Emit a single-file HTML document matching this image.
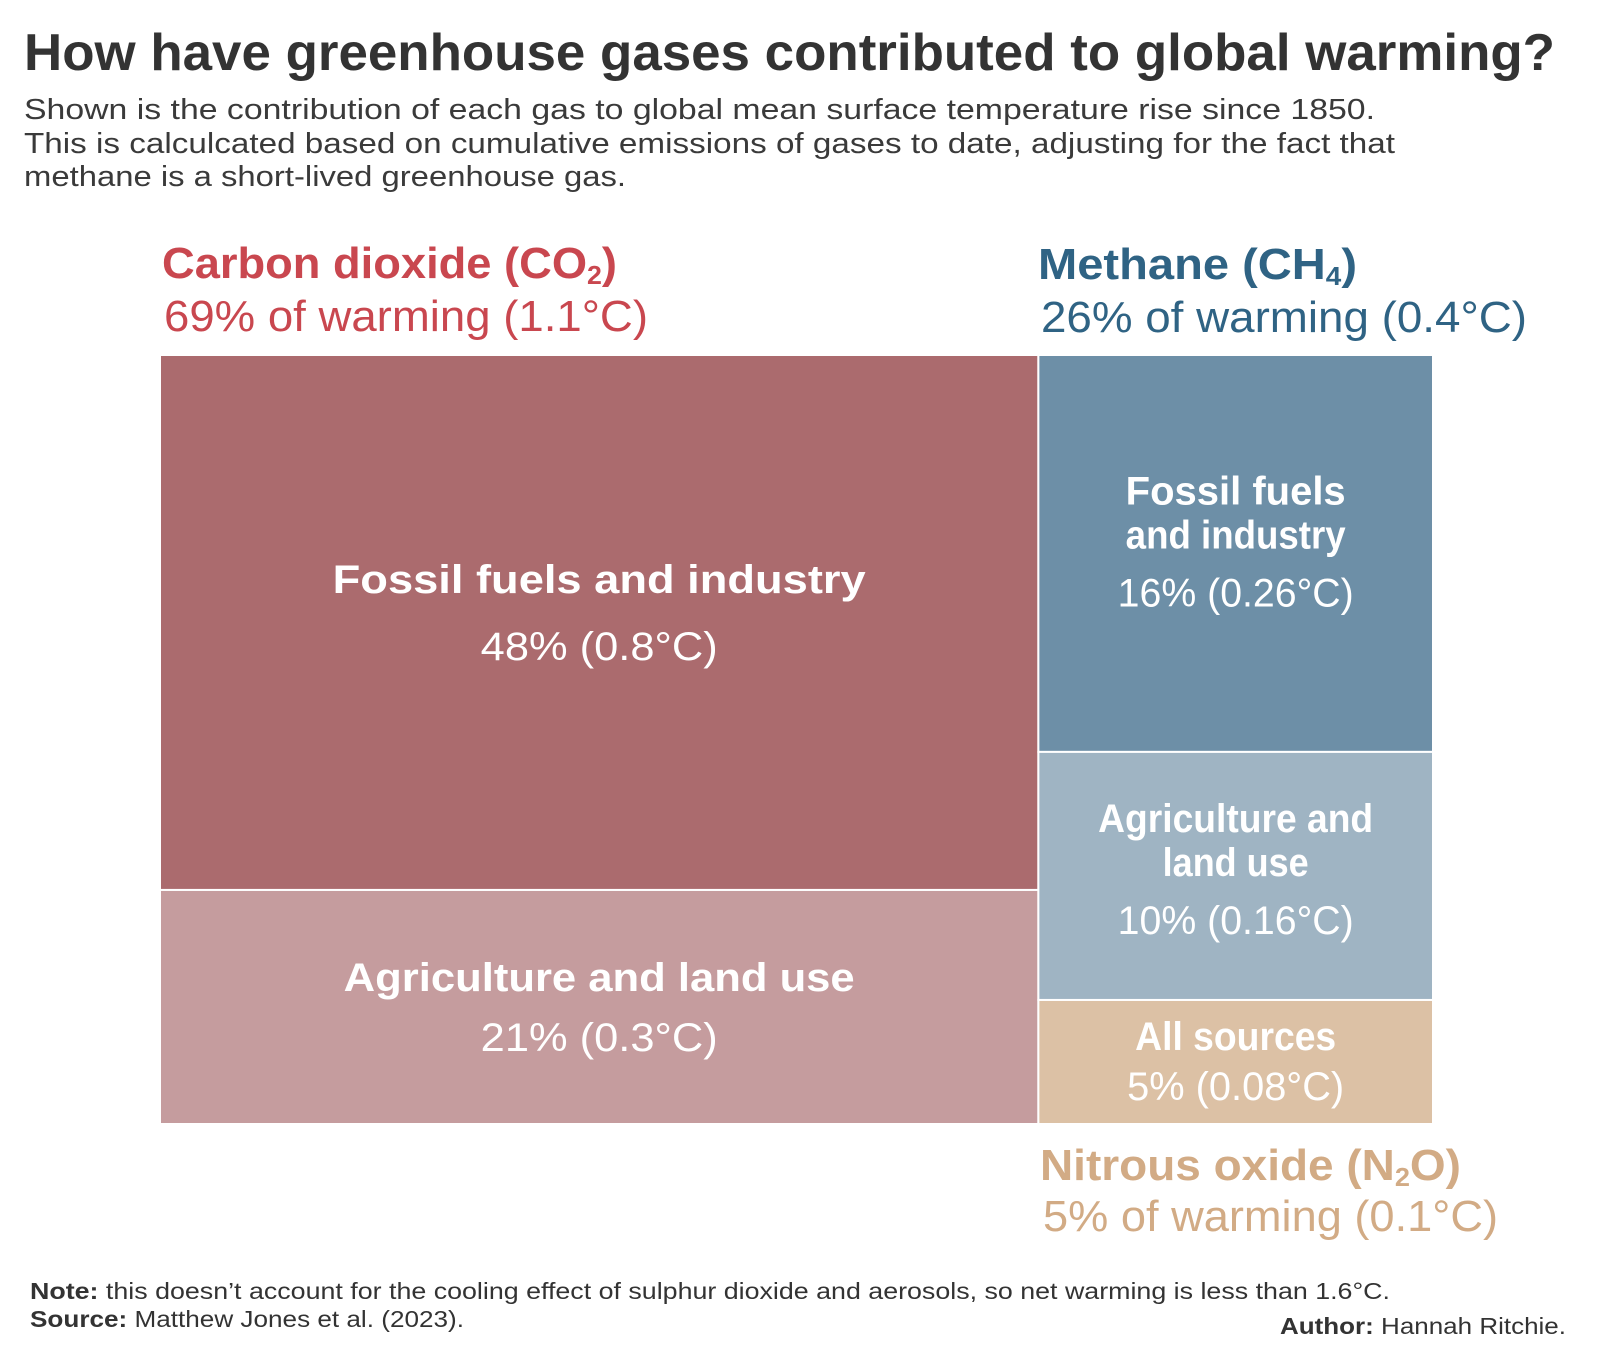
<!DOCTYPE html>
<html><head><meta charset="utf-8"><style>
html,body{margin:0;padding:0;background:#fff;}
svg{display:block;font-family:"Liberation Sans",sans-serif;}
</style></head><body>
<svg id="chart" width="1600" height="1359" viewBox="0 0 1600 1359">
<text x="24" y="70" font-size="52" font-weight="bold" fill="#333" textLength="1531" lengthAdjust="spacingAndGlyphs">How have greenhouse gases contributed to global warming?</text>
<g font-size="29" fill="#3a3a3a">
<text x="24" y="119" textLength="1351" lengthAdjust="spacingAndGlyphs">Shown is the contribution of each gas to global mean surface temperature rise since 1850.</text>
<text x="24" y="153" textLength="1371" lengthAdjust="spacingAndGlyphs">This is calculcated based on cumulative emissions of gases to date, adjusting for the fact that</text>
<text x="24" y="186" textLength="602" lengthAdjust="spacingAndGlyphs">methane is a short-lived greenhouse gas.</text>
</g>
<g fill="#c9474f">
<text x="162" y="278" font-size="44" font-weight="bold" textLength="455" lengthAdjust="spacingAndGlyphs">Carbon dioxide (CO<tspan font-size="26" dy="6">2</tspan><tspan dy="-6">)</tspan></text>
<text x="164" y="331" font-size="44" textLength="484" lengthAdjust="spacingAndGlyphs">69% of warming (1.1°C)</text>
</g>
<g fill="#2f6384">
<text x="1038" y="279" font-size="44" font-weight="bold" textLength="319" lengthAdjust="spacingAndGlyphs">Methane (CH<tspan font-size="26" dy="6">4</tspan><tspan dy="-6">)</tspan></text>
<text x="1041" y="332" font-size="44" textLength="486" lengthAdjust="spacingAndGlyphs">26% of warming (0.4°C)</text>
</g>
<g fill="#d2ab85">
<text x="1040" y="1180" font-size="44" font-weight="bold" textLength="421" lengthAdjust="spacingAndGlyphs">Nitrous oxide (N<tspan font-size="26" dy="6">2</tspan><tspan dy="-6">O)</tspan></text>
<text x="1043" y="1231" font-size="44" textLength="455" lengthAdjust="spacingAndGlyphs">5% of warming (0.1°C)</text>
</g>
<g id="cells"></g>
<g font-size="23" fill="#333">
<text x="30" y="1299" textLength="1360" lengthAdjust="spacingAndGlyphs"><tspan font-weight="bold">Note:</tspan> this doesn’t account for the cooling effect of sulphur dioxide and aerosols, so net warming is less than 1.6°C.</text>
<text x="30" y="1327" textLength="434" lengthAdjust="spacingAndGlyphs"><tspan font-weight="bold">Source:</tspan> Matthew Jones et al. (2023).</text>
<text x="1280" y="1334" textLength="286" lengthAdjust="spacingAndGlyphs"><tspan font-weight="bold">Author:</tspan> Hannah Ritchie.</text>
</g>
</svg>
<script>
const gases = ["co2","co2","ch4","ch4","n2o"];
const categories = ["Fossil fuels and industry","Agriculture and land use","Fossil fuels and industry","Agriculture and land use","All sources"];
const shares = [48,21,16,10,5];
const tempLabels = ["0.8°C","0.3°C","0.26°C","0.16°C","0.08°C"];
const X0=160, Y0=355, W=1273, H=769;
const colors=["#ab6b6e","#c59c9e","#6d8fa7","#9fb4c3","#dcc1a5"];
const lines=[["Fossil fuels and industry"],["Agriculture and land use"],["Fossil fuels","and industry"],["Agriculture and","land use"],["All sources"]];
const svgNS="http://www.w3.org/2000/svg";
const g=document.getElementById('cells');
const total=shares.reduce((a,b)=>a+b,0);
const leftSum=shares.filter((v,i)=>gases[i]==="co2").reduce((a,b)=>a+b,0);
const rightSum=total-leftSum;
const xSplit=X0+W*leftSum/total;
let yl=Y0, yr=Y0;
shares.forEach((v,i)=>{
  let x,y,w,h;
  if(gases[i]==="co2"){x=X0;w=xSplit-X0;h=H*v/leftSum;y=yl;yl+=h;}
  else{x=xSplit;w=X0+W-xSplit;h=H*v/rightSum;y=yr;yr+=h;}
  const r=document.createElementNS(svgNS,'rect');
  
  
  r.setAttribute('x',x);r.setAttribute('y',y);r.setAttribute('width',w);r.setAttribute('height',h);
  r.setAttribute('fill',colors[i]);r.setAttribute('stroke','#fff');r.setAttribute('stroke-width','2');
  g.appendChild(r);
  const cx=x+w/2;
  const L=lines[i];
  const big=gases[i]==="co2";
  const lh=big?0:44;
  const gap=big?(i===1?60:67):(i===4?50:58);
  const block=(L.length-1)*lh+gap;
  let by;
  if(i===0) by=y+238; else if(i===1) by=y+101; else by=y+h/2-block/2+ (i===4?13:(i===2?2:7));
  L.forEach((t,k)=>{
    const tx=document.createElementNS(svgNS,'text');
    
    
    tx.setAttribute('x',cx);tx.setAttribute('y',by+k*lh);
    tx.setAttribute('text-anchor','middle');tx.setAttribute('fill','#fff');
    tx.setAttribute('font-size','40');tx.setAttribute('font-weight','bold');
    tx.setAttribute('textLength', Math.round(t.length*(big?21.3:18.3)));
    tx.setAttribute('lengthAdjust','spacingAndGlyphs');
    tx.textContent=t;g.appendChild(tx);
  });
  const vt=document.createElementNS(svgNS,'text');
  const vs=v+'% ('+tempLabels[i]+')';
  
  
  vt.setAttribute('x',cx);vt.setAttribute('y',by+(L.length-1)*lh+gap);
  vt.setAttribute('text-anchor','middle');vt.setAttribute('fill','#fff');
  vt.setAttribute('font-size','40');
  vt.setAttribute('textLength',Math.round(vs.length*(big?21.5:19.7)));
  vt.setAttribute('lengthAdjust','spacingAndGlyphs');
  vt.textContent=vs;g.appendChild(vt);
});
</script>
</body></html>
